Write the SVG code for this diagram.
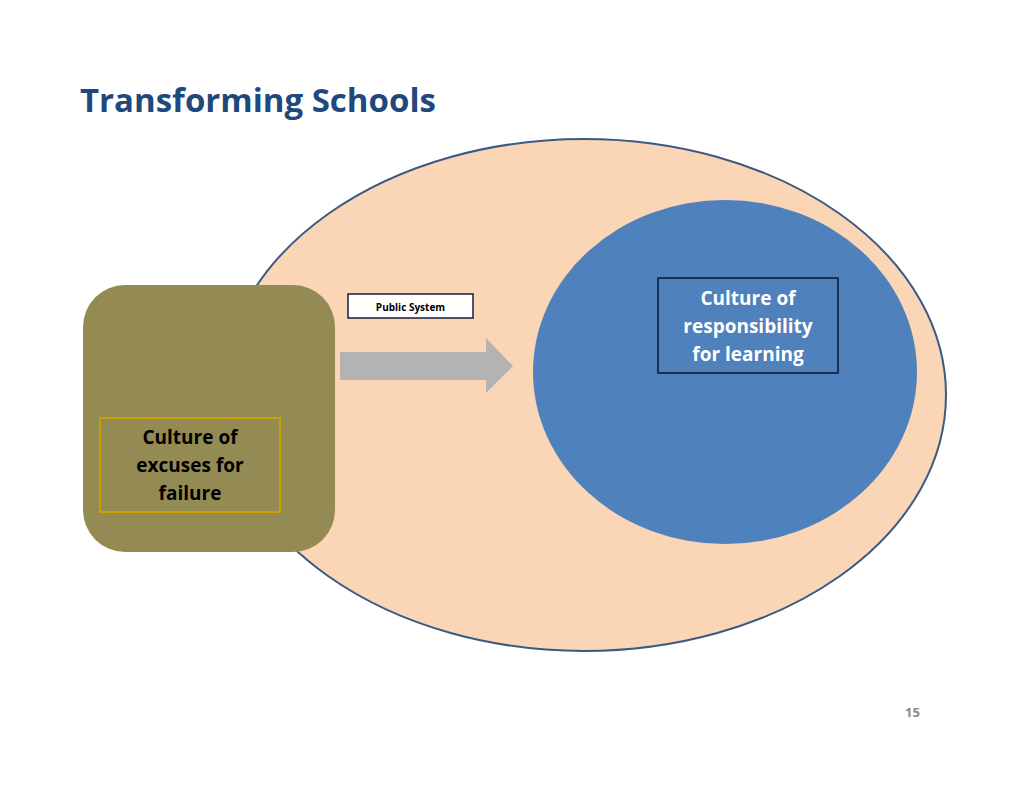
<svg xmlns="http://www.w3.org/2000/svg" width="1024" height="792" viewBox="0 0 1024 792">
<style>
text{font-family:"Open Sans","Liberation Sans",sans-serif;font-weight:bold}
.lbl{font-size:19px;text-anchor:middle}
</style>
<rect width="1024" height="792" fill="#fff"/>
<text x="80" y="112" font-size="33" fill="#1f497d">Transforming Schools</text>
<g id="public-system-ellipse"><ellipse cx="584" cy="395" rx="362" ry="256" fill="#fad5b6" stroke="#3b5a82" stroke-width="2"/></g>
<g id="responsibility-ellipse"><ellipse cx="725" cy="372" rx="192" ry="172" fill="#4f81bd"/></g>
<g id="excuses-block"><rect x="83" y="285" width="252" height="267" rx="42" fill="#948a54"/>
<rect x="100" y="418" width="180" height="94" fill="none" stroke="#c9a000" stroke-width="2"/>
<text class="lbl" fill="#000"><tspan x="190" y="444">Culture of</tspan><tspan x="190" y="472">excuses for</tspan><tspan x="190" y="500">failure</tspan></text></g>
<g id="public-system-label"><rect x="348" y="294" width="125" height="24" fill="#fff" stroke="#1a1a40" stroke-width="1.5"/>
<text x="410.5" y="310.5" font-size="10" text-anchor="middle" font-weight="normal" fill="#000">Public  System</text></g>
<g id="connectors"><polygon points="340,352 486,352 486,338 513,366 486,393 486,380 340,380" fill="#b3b3b3"/></g>
<g id="responsibility-label"><rect x="658" y="278" width="180" height="95" fill="#4f81bd" stroke="#1f2f50" stroke-width="2"/>
<text class="lbl" fill="#fff"><tspan x="748" y="305">Culture of</tspan><tspan x="748" y="333">responsibility</tspan><tspan x="748" y="361">for learning</tspan></text></g>
<text x="905" y="717" font-size="13" font-weight="normal" fill="#888">15</text>
</svg>
